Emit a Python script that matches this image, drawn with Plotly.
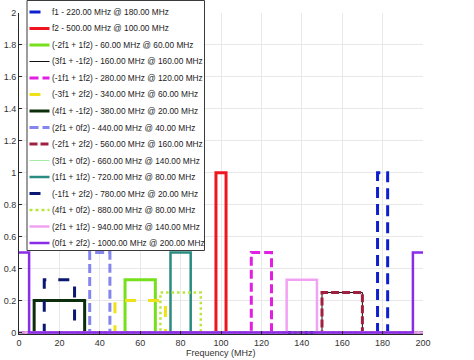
import plotly.graph_objects as go

# ---- data ----
product_labels = [
    "f1 - 220.00 MHz @ 180.00 MHz",
    "f2 - 500.00 MHz @ 100.00 MHz",
    "(-2f1 + 1f2) - 60.00 MHz @ 60.00 MHz",
    "(3f1 + -1f2) - 160.00 MHz @ 160.00 MHz",
    "(-1f1 + 1f2) - 280.00 MHz @ 120.00 MHz",
    "(-3f1 + 2f2) - 340.00 MHz @ 60.00 MHz",
    "(4f1 + -1f2) - 380.00 MHz @ 20.00 MHz",
    "(2f1 + 0f2) - 440.00 MHz @ 40.00 MHz",
    "(-2f1 + 2f2) - 560.00 MHz @ 160.00 MHz",
    "(3f1 + 0f2) - 660.00 MHz @ 140.00 MHz",
    "(1f1 + 1f2) - 720.00 MHz @ 80.00 MHz",
    "(-1f1 + 2f2) - 780.00 MHz @ 20.00 MHz",
    "(4f1 + 0f2) - 880.00 MHz @ 80.00 MHz",
    "(2f1 + 1f2) - 940.00 MHz @ 140.00 MHz",
    "(0f1 + 2f2) - 1000.00 MHz @ 200.00 MHz",
]
alias_center_mhz = [180, 100, 60, 160, 120, 60, 20, 40, 160, 140, 80, 20, 80, 140, 200]
bandwidth_mhz = [5, 5, 15, 20, 10, 25, 25, 10, 20, 15, 10, 15, 20, 15, 10]
amplitude = [1.0, 1.0, 0.33, 0.25, 0.5, 0.2, 0.2, 0.5, 0.25, 0.33, 0.5, 0.33, 0.25, 0.33, 0.5]
x_tick_vals = [0, 20, 40, 60, 80, 100, 120, 140, 160, 180, 200]
y_tick_vals = [0, 0.2, 0.4, 0.6, 0.8, 1.0, 1.2, 1.4, 1.6, 1.8, 2.0]
nyquist_mhz = 200

# ---- styles ----
colors = ["#0d1fcf", "#ee1420", "#77e01c", "#111111", "#e31ee3", "#f0e21a",
          "#0d2e0d", "#8585f0", "#a02040", "#a6eba6", "#2a8c80", "#0b1872",
          "#b8e63c", "#f2a2f2", "#8a2be8"]
widths = [3, 3, 3, 1, 3, 3, 3, 3, 3, 1, 2.5, 3, 2.5, 2.5, 2.5]
dashes = ["11px,6px", "solid", "solid", "solid", "9px,4px", "11px,12px",
          "solid", "9px,4px", "8px,3px", "solid", "solid", "11px,12px",
          "2.5px,3px", "solid", "solid"]

fig = go.Figure()
for i in range(len(product_labels)):
    c, w, h = alias_center_mhz[i], bandwidth_mhz[i], amplitude[i]
    lo, hi = c - w / 2, c + w / 2
    if hi > nyquist_mhz:
        ov = hi - nyquist_mhz
        xs = [0, ov, ov, lo, lo, nyquist_mhz]
        ys = [h, h, 0, 0, h, h]
    else:
        xs = [0, lo, lo, hi, hi, nyquist_mhz]
        ys = [0, 0, h, h, 0, 0]
    fig.add_trace(go.Scatter(
        x=xs, y=ys, mode="lines", name=product_labels[i], showlegend=False,
        line=dict(color=colors[i], width=widths[i], dash=dashes[i]),
        hoverinfo="skip",
    ))

# ---- custom compact legend ----
L, R, T, B = 19, 51, 13, 26
W, H = 474, 360
pw, ph = W - L - R, H - T - B

def px2x(px):
    return (px - L) / pw

def px2y(py):
    return (H - B - py) / ph

shapes = [dict(type="rect", xref="paper", yref="paper",
               x0=px2x(27), x1=px2x(204.5), y0=px2y(250.5), y1=px2y(0.5),
               fillcolor="white", line=dict(color="#3a3a3a", width=1), layer="above")]
annotations = []
for i, lab in enumerate(product_labels):
    yc = px2y(12 + 16.5 * i)
    d = dashes[i]
    if d in ("11px,6px", "11px,12px"):
        d = "11px,12px"
    elif d == "2.5px,3px":
        d = "3px,3px"
    shapes.append(dict(type="line", xref="paper", yref="paper",
                       x0=px2x(29.5), x1=px2x(49.5), y0=yc, y1=yc,
                       line=dict(color=colors[i], width=widths[i], dash=d), layer="above"))
    annotations.append(dict(xref="paper", yref="paper", x=px2x(49.5), y=yc,
                            text=lab, showarrow=False, xanchor="left", yanchor="middle",
                            font=dict(size=8.3, color="#222222")))

annotations.append(dict(xref="paper", yref="paper", x=px2x(221), y=px2y(353),
                        text="Frequency (MHz)", showarrow=False, xanchor="center",
                        yanchor="middle", font=dict(size=9, color="#333333")))

fig.update_layout(
    width=W, height=H,
    margin=dict(l=L, r=R, t=T, b=B, pad=0),
    paper_bgcolor="white", plot_bgcolor="white",
    font=dict(family="Liberation Sans, Arial, sans-serif", size=9, color="#333333"),
    shapes=shapes, annotations=annotations, showlegend=False,
    xaxis=dict(range=[0, 200], tickvals=x_tick_vals, ticktext=[str(v) for v in x_tick_vals],
               showgrid=True, gridcolor="#e8e8e8", gridwidth=1, zeroline=False,
               showline=True, linecolor="#262626", linewidth=1,
               ticks="inside", ticklen=3, tickcolor="#262626",
               automargin=False),
    yaxis=dict(range=[-0.01, 2], tickvals=y_tick_vals,
               showgrid=True, gridcolor="#e8e8e8", gridwidth=1, zeroline=False,
               showline=True, linecolor="#262626", linewidth=1,
               ticks="inside", ticklen=3, tickcolor="#262626",
               automargin=False),
)

fig.write_html("out.html", config={"displayModeBar": False},
               post_script="document.body.style.margin='0';")
